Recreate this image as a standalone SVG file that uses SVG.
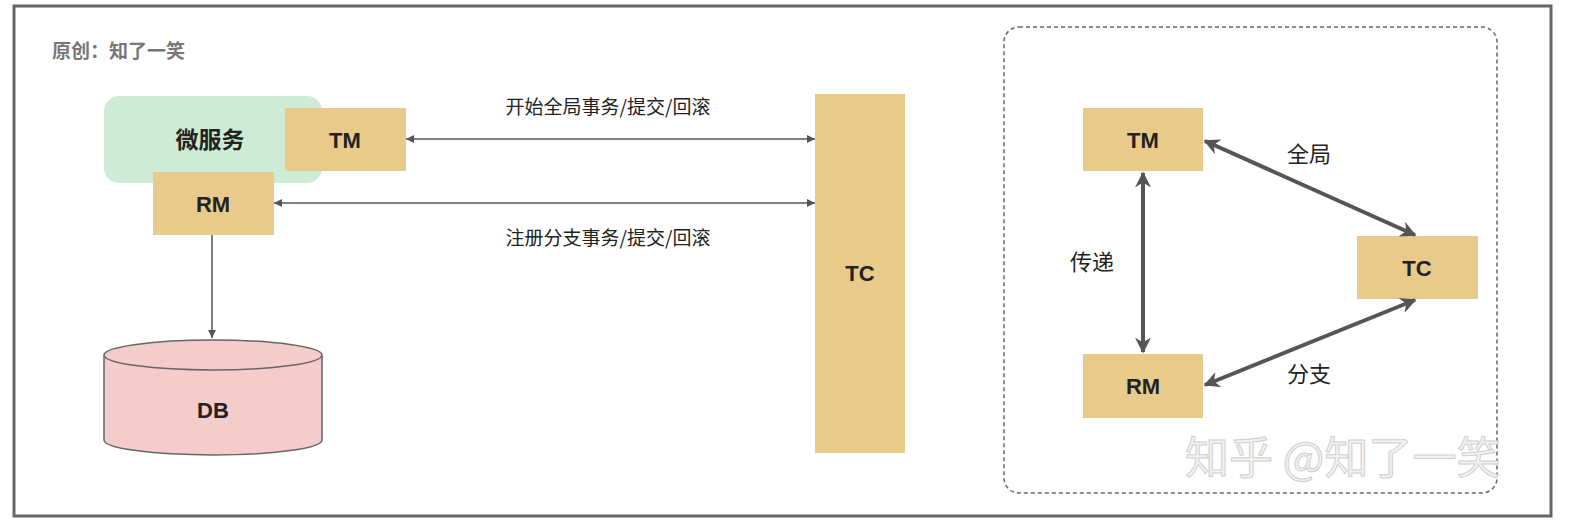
<svg xmlns="http://www.w3.org/2000/svg" width="1584" height="526" viewBox="0 0 1584 526">
<style>
.box{fill:#e8cb8b}
.b{font-family:"Liberation Sans","Noto Sans CJK SC",sans-serif;font-weight:bold;fill:#222;text-anchor:middle}
.t{font-family:"Noto Sans CJK SC",sans-serif;fill:#222;text-anchor:middle}
.thin{stroke:#555;stroke-width:1.5;fill:none}
.thick{stroke:#555;stroke-width:4;fill:none}
</style>
<defs>
<marker id="a" viewBox="0 0 10 10" refX="10" refY="5" markerWidth="10" markerHeight="8" markerUnits="userSpaceOnUse" orient="auto-start-reverse"><path d="M0,0L10,5L0,10z" fill="#555"/></marker>
<marker id="A" viewBox="0 0 10 10" refX="9" refY="5" markerWidth="18" markerHeight="16" markerUnits="userSpaceOnUse" orient="auto-start-reverse"><path d="M0,0L10,5L0,10L3,5z" fill="#555"/></marker>
</defs>
<rect width="1584" height="526" fill="#fff"/>
<rect x="14" y="6" width="1537" height="510" fill="none" stroke="#666" stroke-width="3"/>
<text x="52" y="58" font-family="Noto Sans CJK SC,sans-serif" font-weight="bold" font-size="19" fill="#777">原创：知了一笑</text>
<g id="ms"><rect x="104" y="96" width="218" height="87" rx="15" fill="#cdebd5"/><text class="b" x="210" y="148" font-size="23">微服务</text></g>
<g id="tm"><rect class="box" x="285" y="108" width="121" height="63"/><text class="b" x="345" y="148" font-size="22">TM</text></g>
<g id="rm"><rect class="box" x="153" y="172" width="121" height="63"/><text class="b" x="213" y="212" font-size="22">RM</text></g>
<g id="tc"><rect class="box" x="815" y="94" width="90" height="359"/><text class="b" x="860" y="281" font-size="22">TC</text></g>
<g id="db"><path d="M104,355 V440 A109,15 0 0 0 322,440 V355" fill="#f4cccc" stroke="#666" stroke-width="1.5"/><ellipse cx="213" cy="355" rx="109" ry="15" fill="#f4cccc" stroke="#666" stroke-width="1.5"/><text class="b" x="213" y="418" font-size="22">DB</text></g>
<g id="frame"><rect x="1004" y="27" width="493" height="466" rx="15" fill="none" stroke="#666" stroke-width="1.5" stroke-dasharray="4,3"/></g>
<g id="tm2"><rect class="box" x="1083" y="108" width="120" height="63"/><text class="b" x="1143" y="148" font-size="22">TM</text></g>
<g id="rm2"><rect class="box" x="1083" y="354" width="120" height="64"/><text class="b" x="1143" y="394" font-size="22">RM</text></g>
<g id="tc2"><rect class="box" x="1357" y="236" width="121" height="63"/><text class="b" x="1417" y="276" font-size="22">TC</text></g>
<g id="connectors">
<line class="thin" x1="406" y1="139" x2="815" y2="139" marker-start="url(#a)" marker-end="url(#a)"/>
<line class="thin" x1="274" y1="203" x2="815" y2="203" marker-start="url(#a)" marker-end="url(#a)"/>
<line class="thin" x1="212" y1="235" x2="212" y2="338" marker-end="url(#a)"/>
<line class="thick" x1="1205" y1="141" x2="1415" y2="235" marker-start="url(#A)" marker-end="url(#A)"/>
<line class="thick" x1="1415" y1="300" x2="1205" y2="385" marker-start="url(#A)" marker-end="url(#A)"/>
<line class="thick" x1="1143" y1="173" x2="1143" y2="352" marker-start="url(#A)" marker-end="url(#A)"/>
<text class="t" x="608" y="114" font-size="19">开始全局事务/提交/回滚</text>
<text class="t" x="608" y="245" font-size="19">注册分支事务/提交/回滚</text>
<text class="t" x="1309" y="162" font-size="22">全局</text>
<text class="t" x="1092" y="270" font-size="22">传递</text>
<text class="t" x="1309" y="382" font-size="22">分支</text>
</g>
<text x="1185" y="474" font-family="Noto Sans CJK SC,sans-serif" font-size="44" fill="#f2f2f2" stroke="#cfcfcf" stroke-width="1">知乎 @知了一笑</text>
</svg>
